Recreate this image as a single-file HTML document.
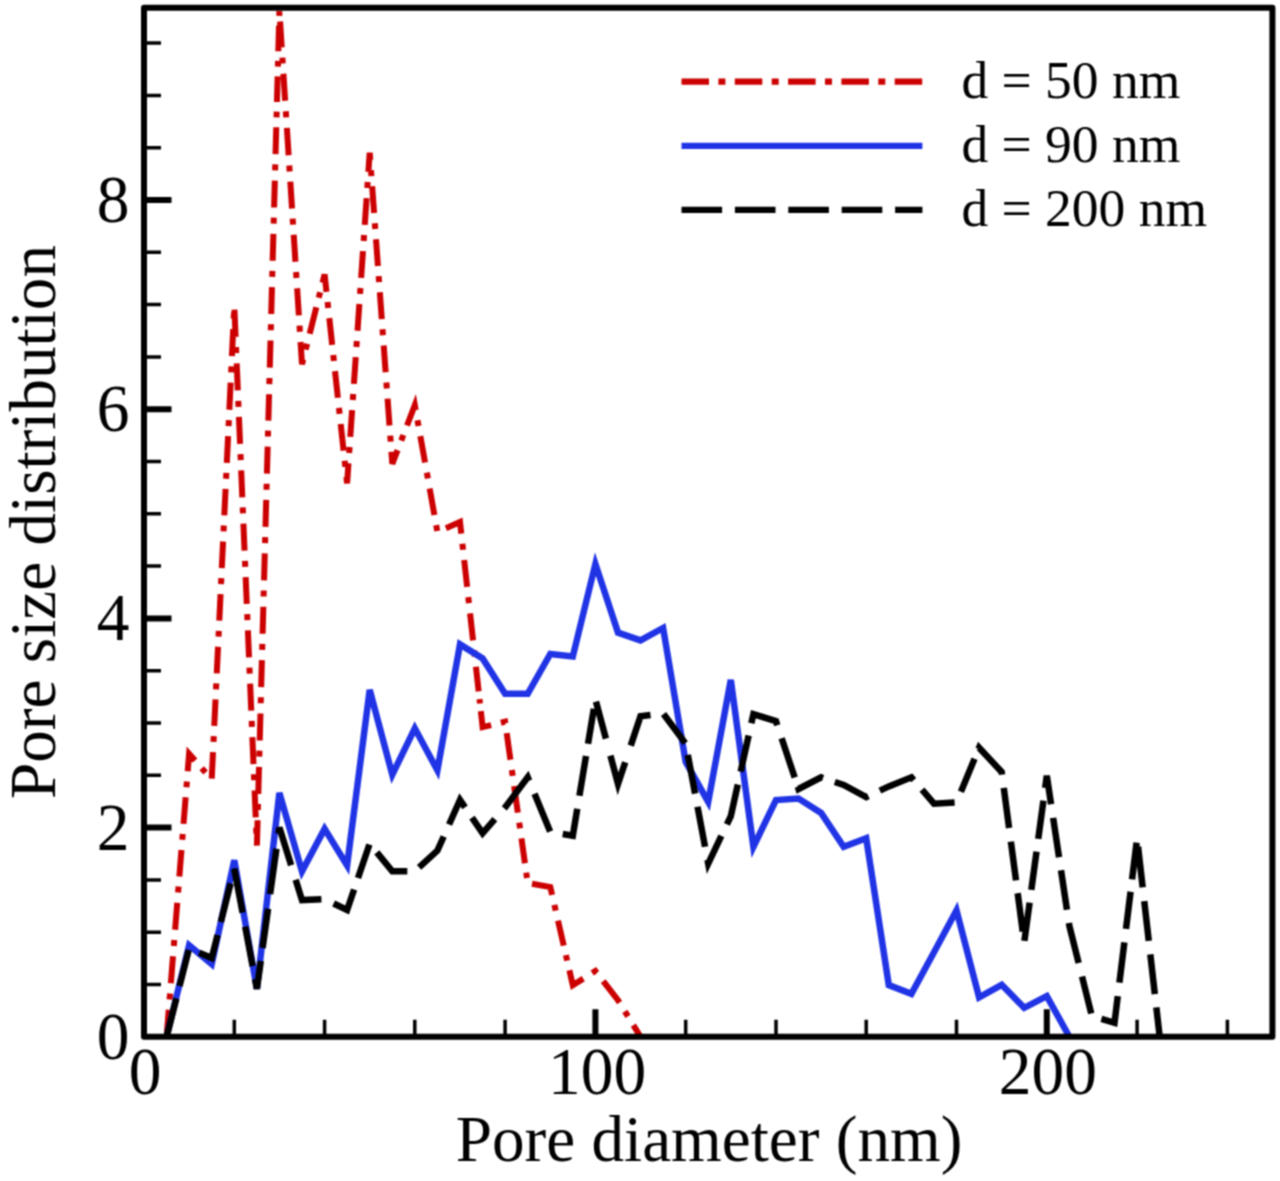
<!DOCTYPE html>
<html><head><meta charset="utf-8"><title>Pore size distribution</title>
<style>html,body{margin:0;padding:0;background:#fff;width:1280px;height:1181px;overflow:hidden}svg{display:block}</style>
</head><body>
<svg width="1280" height="1181" viewBox="0 0 1280 1181">
<defs><clipPath id="pc"><rect x="144.0" y="7.7" width="1128.4" height="1029.1"/></clipPath><filter id="soft" x="0" y="0" width="1280" height="1181" filterUnits="userSpaceOnUse" color-interpolation-filters="sRGB"><feConvolveMatrix order="3" kernelMatrix="1 2 1 2 4 2 1 2 1" divisor="16" edgeMode="duplicate"/></filter></defs>
<g filter="url(#soft)">
<rect x="0" y="0" width="1280" height="1181" fill="#ffffff"/>
<g clip-path="url(#pc)" fill="none" stroke-linejoin="miter" stroke-miterlimit="4" stroke-linecap="butt">
<polyline points="166.6,1036.8 189.1,753.8 211.7,779.5 234.3,306.1 256.9,845.5 279.4,11.0 302.0,364.3 324.6,274.4 347.1,483.4 369.7,152.6 392.3,463.9 414.8,405.1 437.4,531.9 460.0,522.0 482.6,727.1 505.1,721.7 527.7,883.0 550.3,887.0 572.8,985.2 595.4,971.0 618.0,1000.2 640.5,1036.8" stroke="#cc0000" stroke-width="6.0" stroke-dasharray="27.1 10.3 6.0 10.3 27.1 10.3 6.0 10.3 27.1 10.3 6.0 10.1 26.6 10.1 5.9 10.1 26.6 10.1 5.9 10.1 26.6 10.1 5.9 10.1 26.6 10.1 5.9 10.1 26.6 10.1 5.9 10.1 26.6 10.1 5.9 10.1 26.6 10.1 5.9 10.1 26.6 10.1 5.9 10.1 26.6 10.1 5.9 10.1 26.6 10.2 6.0 10.3 27.1 10.3 6.0 10.3 27.1 10.3 6.0 10.3 27.1 10.3 6.0 10.3 27.1 10.3 6.0 10.2 27.0 10.2 6.0 10.2 27.0 10.2 6.0 10.2 27.0 10.2 6.0 10.2 27.0 10.2 6.0 10.2 27.0 10.2 6.0 10.2 27.0 10.2 6.0 10.2 27.0 10.2 6.0 10.2 27.0 10.2 6.0 10.2 27.0 10.2 6.0 10.2 27.0 10.2 6.0 10.2 27.0 10.2 6.0 10.2 27.0 10.2 6.0 10.2 27.0 10.2 6.0 10.2 27.0 10.2 6.0 10.2 27.0 10.2 6.0 10.2 27.0 10.1 5.9 10.0 26.3 10.2 6.1 10.3 27.2 10.3 6.0 10.2 26.9 10.2 6.0 10.2 26.9 10.2 6.0 10.2 26.9 10.2 6.0 10.2 26.9 9.9 5.7 9.7 25.7 9.7 5.7 9.7 25.7 9.7 5.7 9.7 25.9 10.2 6.0 10.2 27.1 10.5 6.1 10.5 27.5 10.2 6.0 10.2 26.9 10.2 6.0 10.2 27.0 10.3 6.0 10.3 27.1 10.3 6.1 10.3 27.2 10.3 6.1 10.3 27.2 9.8 5.8 9.8 26.1 10.2 6.0 10.2 26.9 10.2 6.0 10.2 26.8 10.2 6.0 10.2 26.8 10.2 6.0 10.2 26.8 10.2 6.0 10.2 26.8 10.2 5.9 10.2 26.8 10.2 6.0 10.2 26.8 10.2 5.9 10.2 26.8 10.2 5.9 10.2 26.8 10.2 5.9 10.2 26.8 10.2 5.9 10.2 26.8 10.2 5.9 10.2 26.8 10.2 6.0 10.2 26.9 10.2 6.0 10.2 26.9 10.2 6.0 10.2 26.9 10.2 6.0 10.2 26.9 10.2 6.0 10.2 26.9 10.2 6.0 10.2 26.9 10.2 6.0 10.2 26.9 10.2 6.0 10.2 27.0 10.3 6.0 10.3 27.1 10.3 6.0 10.3 27.1 10.3 6.0 10.3 24.8 7.7 4.5 7.7 24.8 10.0 5.9 10.0 26.9 10.3 6.0 10.3 26.7 10.1 5.9 10.1 25.1 9.4 5.5 9.4 26.7 10.2 6.0 10.2 25.7 9.7 5.7 9.8 27.7 10.5 6.1 10.5 27.0 10.2 6.0 10.2 27.0 1000.0"/>
<polyline points="166.6,1036.8 189.1,945.3 211.7,964.1 234.3,860.3 256.9,988.8 279.4,792.9 302.0,871.4 324.6,828.9 347.1,865.5 369.7,689.8 392.3,774.7 414.8,728.3 437.4,770.3 460.0,644.4 482.6,658.4 505.1,693.8 527.7,693.8 550.3,653.9 572.8,656.4 595.4,564.0 618.0,632.6 640.5,640.4 663.1,628.0 685.7,762.0 708.2,801.9 730.8,679.9 753.4,846.8 776.0,800.0 798.5,798.5 821.1,812.9 843.7,846.7 866.2,838.3 888.8,985.1 911.4,993.9 934.0,952.2 956.5,910.4 979.1,997.4 1001.7,984.8 1024.2,1007.8 1046.8,996.1 1069.4,1036.8" stroke="#2034e6" stroke-width="6.5"/>
<polyline points="166.6,1036.8 189.1,948.5 211.7,958.0 234.3,868.8 256.9,988.8 279.4,827.5 302.0,900.1 324.6,899.1 347.1,910.0 369.7,843.6 392.3,871.3 414.8,871.3 437.4,850.6 460.0,800.0 482.6,833.1 505.1,807.5 527.7,777.2 550.3,831.9 572.8,835.7 595.4,699.4 618.0,783.9 640.5,716.3 663.1,713.4 685.7,743.7 708.2,863.6 730.8,816.1 753.4,714.1 776.0,721.2 798.5,789.0 821.1,777.3 843.7,785.0 866.2,797.2 888.8,786.4 911.4,777.3 934.0,803.7 956.5,802.5 979.1,747.7 1001.7,772.0 1024.2,942.6 1046.8,775.7 1069.4,926.0 1091.9,1016.1 1114.5,1022.8 1137.1,838.4 1159.7,1036.8" stroke="#000000" stroke-width="6.5" stroke-dasharray="39.6 12.8 37.2 12.5 37.3 13.3 39.9 15.0 44.7 14.2 40.2 13.1 38.1 13.1 39.6 14.8 45.7 15.3 45.7 15.3 40.7 13.2 36.7 12.1 35.4 12.2 39.5 13.3 40.3 13.1 35.8 12.3 37.4 14.2 43.0 14.0 40.8 13.1 37.5 13.2 40.3 12.4 35.4 11.9 38.3 17.5 52.2 17.5 41.0 13.4 36.3 12.2 39.4 13.3 40.7 13.4 34.4 12.9 41.4 13.2 37.0 12.5 37.3 13.8 41.4 9.8 29.8 12.4 37.4 12.7 37.9 12.7 39.1 13.5 35.8 10.4 37.3 13.3 40.5 13.7 39.2 12.9 38.6 12.9 38.6 12.9 38.6 12.9 38.6 12.9 41.1 13.8 39.7 13.2 39.9 13.4 41.3 13.9 38.1 12.6 40.5 13.6 40.7 13.6 37.3 12.4 37.0 12.7 41.0 13.7 40.2 13.5 40.0 13.4 40.0 1000.0"/>
</g>
<path d="M234.3 1036.8V1019.8 M324.6 1036.8V1019.8 M414.8 1036.8V1019.8 M505.1 1036.8V1019.8 M595.4 1036.8V1019.8 M685.7 1036.8V1019.8 M776.0 1036.8V1019.8 M866.2 1036.8V1019.8 M956.5 1036.8V1019.8 M1046.8 1036.8V1019.8 M1137.1 1036.8V1019.8 M1227.4 1036.8V1019.8 M144.0 984.5H161.0 M144.0 932.2H161.0 M144.0 879.9H161.0 M144.0 775.3H161.0 M144.0 723.0H161.0 M144.0 670.7H161.0 M144.0 566.1H161.0 M144.0 513.8H161.0 M144.0 461.5H161.0 M144.0 356.9H161.0 M144.0 304.6H161.0 M144.0 252.3H161.0 M144.0 147.7H161.0 M144.0 95.4H161.0 M144.0 43.1H161.0" stroke="#000" stroke-width="3.5" fill="none"/>
<path d="M595.4 1036.8V1009.3 M1046.8 1036.8V1009.3 M144.0 827.6H171.5 M144.0 618.4H171.5 M144.0 409.2H171.5 M144.0 200.0H171.5" stroke="#000" stroke-width="6" fill="none"/>
<rect x="144.0" y="7.7" width="1128.4" height="1029.1" fill="none" stroke="#000" stroke-width="6.0" stroke-linejoin="round"/>
<text transform="translate(129.5 1058.8) scale(0.97 1)" font-family="'Liberation Serif', 'Times New Roman', serif" font-size="67.5" text-anchor="end">0</text>
<text transform="translate(129.5 849.6) scale(0.97 1)" font-family="'Liberation Serif', 'Times New Roman', serif" font-size="67.5" text-anchor="end">2</text>
<text transform="translate(129.5 640.4) scale(0.97 1)" font-family="'Liberation Serif', 'Times New Roman', serif" font-size="67.5" text-anchor="end">4</text>
<text transform="translate(129.5 431.2) scale(0.97 1)" font-family="'Liberation Serif', 'Times New Roman', serif" font-size="67.5" text-anchor="end">6</text>
<text transform="translate(129.5 222.0) scale(0.97 1)" font-family="'Liberation Serif', 'Times New Roman', serif" font-size="67.5" text-anchor="end">8</text>
<text transform="translate(145.2 1094.0) scale(0.97 1)" font-family="'Liberation Serif', 'Times New Roman', serif" font-size="67.5" text-anchor="middle">0</text>
<text transform="translate(597.2 1094.0) scale(0.97 1)" font-family="'Liberation Serif', 'Times New Roman', serif" font-size="67.5" text-anchor="middle">100</text>
<text transform="translate(1047.9 1094.0) scale(0.97 1)" font-family="'Liberation Serif', 'Times New Roman', serif" font-size="67.5" text-anchor="middle">200</text>
<text x="455.7" y="1160.5" font-family="'Liberation Serif', 'Times New Roman', serif" font-size="65.2">Pore diameter (nm)</text>
<text transform="translate(55 799) rotate(-90)" x="0" y="0" font-family="'Liberation Serif', 'Times New Roman', serif" font-size="65.2">Pore size distribution</text>
<line x1="681.5" y1="81.7" x2="922.4" y2="81.7" stroke="#cc0000" stroke-width="6.2" stroke-dasharray="27.5 9.4 7 9.4"/>
<text x="961.4" y="97.8" font-family="'Liberation Serif', 'Times New Roman', serif" font-size="53.5">d = 50 nm</text>
<line x1="681.5" y1="145.9" x2="922.4" y2="145.9" stroke="#2034e6" stroke-width="6.2"/>
<text x="961.4" y="161.8" font-family="'Liberation Serif', 'Times New Roman', serif" font-size="53.5">d = 90 nm</text>
<line x1="681.5" y1="209.8" x2="922.4" y2="209.8" stroke="#000000" stroke-width="6.2" stroke-dasharray="40.6 12.8"/>
<text x="961.4" y="225.8" font-family="'Liberation Serif', 'Times New Roman', serif" font-size="53.5">d = 200 nm</text>
</g>
</svg>
</body></html>
